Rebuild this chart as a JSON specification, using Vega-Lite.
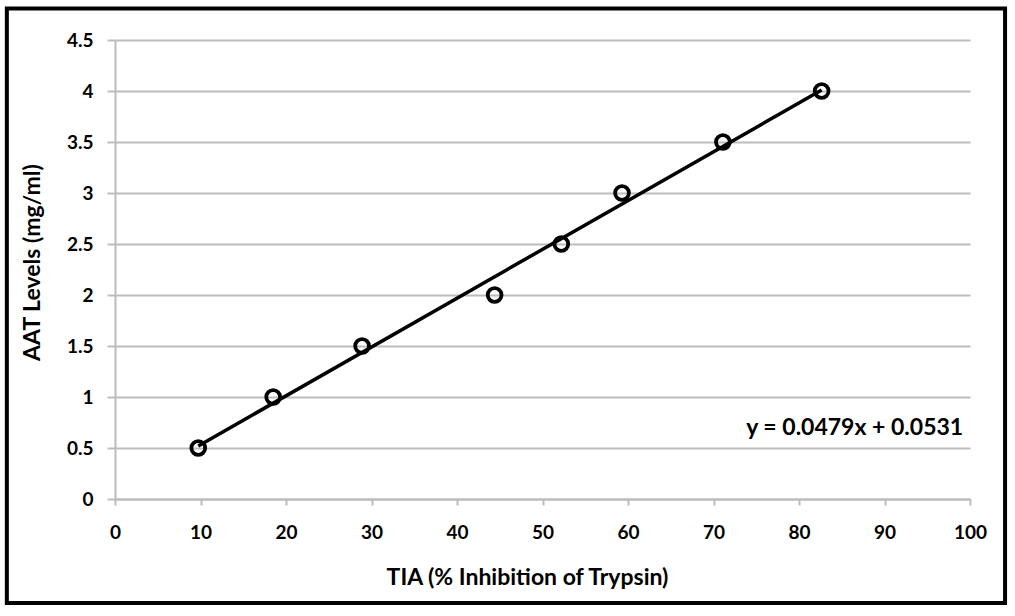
{
  "$schema": "https://vega.github.io/schema/vega-lite/v6.json",
  "width": 855,
  "height": 459,
  "autosize": {"type": "none"},
  "padding": {"left": 115, "top": 40, "right": 45, "bottom": 117},
  "background": "white",
  "datasets": {
    "points": [
      {"tia": 9.74, "aat": 0.5},
      {"tia": 18.5, "aat": 1.0},
      {"tia": 28.9, "aat": 1.5},
      {"tia": 44.4, "aat": 2.0},
      {"tia": 52.2, "aat": 2.5},
      {"tia": 59.3, "aat": 3.0},
      {"tia": 71.1, "aat": 3.5},
      {"tia": 82.65, "aat": 4.0}
    ],
    "fit": [
      {"tia": 9.74, "aat": 0.52},
      {"tia": 82.65, "aat": 4.01}
    ],
    "label": [
      {"tia": 99.2, "aat": 0.7, "text": "y = 0.0479x + 0.0531"}
    ]
  },
  "layer": [
    {
      "data": {"values": [{}]},
      "mark": {"type": "rect", "fill": null, "stroke": "black", "strokeWidth": 4, "clip": false},
      "encoding": {
        "x": {"datum": -12.65},
        "x2": {"datum": 104.1},
        "y": {"datum": 4.81},
        "y2": {"datum": -1.02}
      }
    },
    {
      "data": {"name": "fit"},
      "mark": {"type": "line", "color": "black", "strokeWidth": 3.5},
      "encoding": {
        "x": {"field": "tia", "type": "quantitative"},
        "y": {"field": "aat", "type": "quantitative"}
      }
    },
    {
      "data": {"name": "points"},
      "mark": {"type": "point", "shape": "circle", "filled": false, "color": "black", "strokeWidth": 3.8, "size": 190, "opacity": 1},
      "encoding": {
        "x": {
          "field": "tia",
          "type": "quantitative",
          "title": "TIA (% Inhibition of Trypsin)",
          "scale": {"domain": [0, 100], "nice": false, "zero": false},
          "axis": {
            "values": [0, 10, 20, 30, 40, 50, 60, 70, 80, 90, 100],
            "grid": false,
            "tickSize": 6,
            "labelPadding": 18,
            "titlePadding": 24,
            "titleX": 412
          }
        },
        "y": {
          "field": "aat",
          "type": "quantitative",
          "title": "AAT Levels (mg/ml)",
          "scale": {"domain": [0, 4.5], "nice": false, "zero": false},
          "axis": {
            "values": [0, 0.5, 1, 1.5, 2, 2.5, 3, 3.5, 4, 4.5],
            "format": "~g",
            "grid": true,
            "tickSize": 8,
            "labelPadding": 14,
            "titlePadding": 22,
            "titleY": 222
          }
        }
      }
    },
    {
      "data": {"name": "label"},
      "mark": {"type": "text", "align": "right", "baseline": "middle", "fontSize": 23, "fontWeight": "bold", "font": "Lato", "color": "black"},
      "encoding": {
        "x": {"field": "tia", "type": "quantitative"},
        "y": {"field": "aat", "type": "quantitative"},
        "text": {"field": "text"}
      }
    }
  ],
  "config": {
    "view": {"stroke": null},
    "axis": {
      "domainColor": "#bcbcbc",
      "domainWidth": 2,
      "tickColor": "#bcbcbc",
      "tickWidth": 2,
      "gridColor": "#bcbcbc",
      "gridWidth": 2,
      "gridOpacity": 1,
      "labelFont": "Lato",
      "labelFontSize": 19,
      "labelFontWeight": "bold",
      "labelColor": "black",
      "titleFont": "Lato",
      "titleFontSize": 23,
      "titleFontWeight": "bold",
      "titleColor": "black",
      "labelFlush": false,
      "labelOverlap": false
    }
  }
}
